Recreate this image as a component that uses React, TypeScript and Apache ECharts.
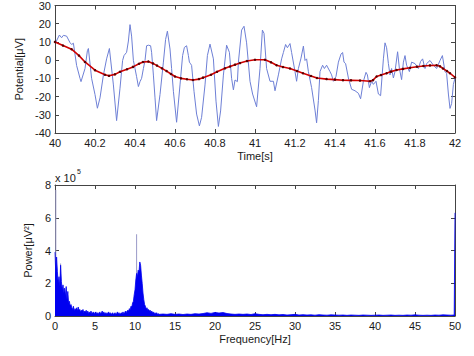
import React, { useEffect, useRef } from 'react';
import * as echarts from 'echarts';

// ---- Top panel: raw EEG potential (µV) vs time (s) ----
const rawTimes = [
  40.005, 40.022, 40.033, 40.042, 40.058, 40.075, 40.083, 40.092, 40.108, 40.125,
  40.13, 40.15, 40.162, 40.167, 40.183, 40.2, 40.212, 40.225, 40.242, 40.258,
  40.272, 40.292, 40.308, 40.325, 40.338, 40.345, 40.358, 40.367, 40.375, 40.383,
  40.392, 40.4, 40.408, 40.417, 40.425, 40.433, 40.442, 40.45, 40.458, 40.467,
  40.478, 40.483, 40.492, 40.5, 40.508, 40.525, 40.542, 40.553, 40.562, 40.575,
  40.583, 40.592, 40.608, 40.625, 40.638, 40.647, 40.658, 40.667, 40.672, 40.678,
  40.683, 40.695, 40.708, 40.722, 40.733, 40.75, 40.762, 40.775, 40.792, 40.805,
  40.817, 40.828, 40.842, 40.858, 40.872, 40.883, 40.892, 40.9, 40.912, 40.917,
  40.933, 40.945, 40.958, 40.975, 40.988, 41.008, 41.025, 41.037, 41.045, 41.058,
  41.075, 41.092, 41.1, 41.117, 41.133, 41.142, 41.153, 41.162, 41.175, 41.183,
  41.2, 41.208, 41.217, 41.23, 41.242, 41.25, 41.258, 41.267, 41.283, 41.3,
  41.308, 41.317, 41.325, 41.338, 41.347, 41.358, 41.375, 41.383, 41.392, 41.405,
  41.417, 41.43, 41.438, 41.445, 41.453, 41.467, 41.483, 41.5, 41.517, 41.528,
  41.542, 41.555, 41.562, 41.572, 41.583, 41.592, 41.605, 41.617, 41.628, 41.642,
  41.65, 41.658, 41.667, 41.675, 41.683, 41.692, 41.7, 41.713, 41.722, 41.733,
  41.742, 41.75, 41.758, 41.772, 41.783, 41.8, 41.817, 41.828, 41.838, 41.85,
  41.858, 41.875, 41.892, 41.908, 41.925, 41.937, 41.95, 41.958, 41.967, 41.975,
  41.983, 41.992, 42.0,
];
const rawPotential = [
  10, 13.8, 12.3, 13.6, 13.2, 9.6, 8.6, 9.3, -2.9, -10,
  -11.8, -4.6, 5.2, 6.4, -10, -18.9, -26.4, -20.7, -8.2, 0.7,
  6.4, -13.6, -33.2, -15.4, -0.2, 2.5, 4.3, 10.5, 19.5, 13.2,
  -0.2, -4.6, -9.1, -14.5, -11.8, -10, -4.6, -0.2, 7.9, 8.2,
  7.9, 4.3, -8.2, -20.7, -33.2, -18.9, -1.1, 11.4, 15.9, 6.1,
  -4.6, -17.1, -34.1, -13.6, 2.5, 7, 7.9, 2.5, -1.1, -2,
  -2.9, -17.1, -29.6, -36.1, -31.4, -13.6, 2.5, 8.8, 0.7, -22.5,
  -36.4, -27.9, -8.2, 8.2, 4.3, -10, -16.3, -10.9, -11.8, -1.1,
  16.5, 18.6, 9.5, -11.6, -18.6, -25.6, -4.6, 16.5, 14.7, -4.6,
  -11.6, -11.6, -16.8, -8.1, 0.7, 4.2, 8.6, 6.8, 9.1, 4.2,
  -6.3, -11.6, -4.6, 1.1, 7.7, -0.2, 0.7, -6.3, -15.1, -27.4,
  -34.4, -22.1, -6.3, -2.8, -4.6, -2.8, -6.3, -8.1, -11.6, -8.9,
  -1.1, 3.3, 4.2, -1.1, -1.9, -9.8, -16, -16.8, -18.2, -21.2,
  -11.6, -6.7, -8.1, -15.1, -11.6, -13.3, -11.6, -18.6, -19.5, 0.7,
  9.5, 6.8, -1.9, -8.1, -4.6, -9.8, -6.3, 4.6, -4.6, -10.7,
  -1.1, 2.5, -2.8, -6.3, -1.1, -1.9, -4.6, -0.7, 0.7, -4.6,
  -1.9, -0.2, -2.8, -4.6, -0.2, 2.5, -6.3, -7.2, -18.6, -26.5,
  -23.9, -13.3, -9.8,
];

// smoothed (low-pass) potential
const smoothTimes = [
  40.0, 40.04, 40.083, 40.12, 40.15, 40.2, 40.25, 40.27, 40.3, 40.325,
  40.36, 40.39, 40.42, 40.44, 40.467, 40.49, 40.51, 40.535, 40.558, 40.58,
  40.6, 40.63, 40.66, 40.69, 40.72, 40.74, 40.78, 40.81, 40.85, 40.875,
  40.9, 40.925, 40.96, 41.0, 41.05, 41.08, 41.108, 41.14, 41.175, 41.21,
  41.24, 41.28, 41.31, 41.358, 41.4, 41.44, 41.48, 41.525, 41.575, 41.59,
  41.608, 41.63, 41.658, 41.68, 41.708, 41.74, 41.775, 41.81, 41.842, 41.875,
  41.908, 41.925, 41.94, 41.96, 41.975, 42.0,
];
const smoothPotential = [
  10, 8, 6, 2.5, -1, -5.5, -8, -8.6, -7.8, -6.4,
  -5, -3.7, -2, -1, -0.8, -1.8, -3, -4.5, -6, -7.6,
  -9, -10, -10.5, -10.9, -10.4, -9.6, -8, -6.4, -4.5, -3.5,
  -2.5, -1.6, -0.5, 0.2, 0.2, -1.2, -2.8, -3.8, -4.6, -6,
  -7.2, -8.7, -9.8, -10.4, -10.7, -11, -11.1, -11.2, -11.6, -11,
  -9, -8.2, -7.2, -6.3, -5.4, -4.8, -4.2, -3.6, -3.2, -2.9,
  -2.8, -3.4, -4.6, -6, -7.2, -9.5,
];

// ---- Bottom panel: power spectrum (x 10^5 µV²) ----
const lowBandStart = 0;
const lowBandStep = 0.1;
const lowBandPower = [
  3.9, 2.5, 3.6, 2.7, 2.0, 2.4, 1.8, 3.1, 2.1, 1.6,
  1.9, 1.4, 1.7, 1.2, 1.8, 1.0, 1.5, 0.8, 0.9, 0.6,
  0.7, 0.5, 0.4, 0.6, 0.3, 0.45, 0.35, 0.5, 0.3, 0.55,
  0.35, 0.4, 0.25, 0.35, 0.3, 0.4, 0.2, 0.3, 0.25, 0.35,
  0.2, 0.3, 0.15, 0.25, 0.2, 0.3, 0.15, 0.2, 0.25, 0.15,
  0.2, 0.25, 0.15, 0.2, 0.1, 0.2, 0.25, 0.15, 0.2, 0.3,
  0.2, 0.25, 0.15, 0.2, 0.1, 0.2, 0.15, 0.25, 0.15, 0.2,
  0.1, 0.15, 0.2, 0.1, 0.15, 0.2, 0.1, 0.15, 0.25, 0.15,
  0.2, 0.1, 0.15, 0.2, 0.15, 0.25, 0.15, 0.2, 0.3, 0.2,
  0.3, 0.35, 0.3, 0.45, 0.4, 0.6, 0.55, 0.8, 0.9, 1.3,
  1.6, 2.2, 2.6, 2.4, 2.8, 2.7, 3.3, 3.1, 2.5, 2.0,
  1.4, 1.0, 0.7, 0.6, 0.45, 0.5, 0.35, 0.4, 0.3, 0.35,
  0.25, 0.3, 0.2, 0.25, 0.15, 0.2, 0.15, 0.2, 0.1, 0.15,
  0.1,
];
const highBandStart = 13.5;
const highBandStep = 0.5;
const highBandPower = [
  0.12, 0.1, 0.14, 0.1, 0.12, 0.09, 0.12, 0.1, 0.14, 0.12,
  0.15, 0.2, 0.16, 0.22, 0.18, 0.21, 0.15, 0.12, 0.1, 0.12,
  0.1, 0.12, 0.09, 0.14, 0.1, 0.08, 0.1, 0.08, 0.1, 0.07,
  0.09, 0.06, 0.08, 0.1, 0.06, 0.08, 0.06, 0.07, 0.05, 0.08,
  0.06, 0.05, 0.07, 0.06, 0.05, 0.06, 0.04, 0.06, 0.05, 0.04,
  0.06, 0.05, 0.04, 0.05, 0.06, 0.04, 0.05, 0.06, 0.04, 0.05,
  0.04, 0.06, 0.05, 0.07, 0.05, 0.04, 0.05, 0.04, 0.06, 0.05,
  0.07, 0.06, 0.05,
];
const edgeFreqs = [49.9, 50];
const edgePower = [0.06, 6.3];
const spikeFreqs = [0.1, 0.7, 10.2];
const spikePower = [7.7, 3.2, 5.0];

const timeTicks = { min: 40, max: 42, interval: 0.2 };
const potentialTicks = { min: -40, max: 30, interval: 10 };
const freqTicks = { min: 0, max: 50, interval: 5 };
const powerTicks = { min: 0, max: 8, interval: 2 };

const FONT = 'Liberation Sans';
const AXIS_COLOR = '#444';
const TEXT_COLOR = '#1a1a1a';

function boxAxis(gridIndex: number, ticks: any, extra: any = {}) {
  return {
    type: 'value',
    gridIndex,
    min: ticks.min,
    max: ticks.max,
    interval: ticks.interval,
    axisLine: { show: true, onZero: false, lineStyle: { color: AXIS_COLOR, width: 1 } },
    axisTick: { show: true, inside: true, length: 4, lineStyle: { color: AXIS_COLOR } },
    splitLine: { show: false },
    axisLabel: { show: false },
    ...extra,
  };
}

export default function App() {
  const ref = useRef<HTMLDivElement>(null);
  useEffect(() => {
    if (!ref.current) return;
    const chart = echarts.init(ref.current, undefined, { renderer: 'svg' });

    const rawData = rawTimes.map((t, i) => [t, rawPotential[i]]);
    const smoothData = smoothTimes.map((t, i) => [t, smoothPotential[i]]);
    const specData: number[][] = [];
    lowBandPower.forEach((v, i) => specData.push([+(lowBandStart + i * lowBandStep).toFixed(2), v]));
    highBandPower.forEach((v, i) => specData.push([highBandStart + i * highBandStep, v]));
    edgeFreqs.forEach((f, i) => specData.push([f, edgePower[i]]));
    const spikeData = spikeFreqs.map((f, i) => [f, spikePower[i]]);

    const labelStyle = { show: true, color: TEXT_COLOR, fontFamily: FONT, fontSize: 11 };
    const nameStyle = { color: TEXT_COLOR, fontFamily: FONT, fontSize: 11 };

    chart.setOption({
      animation: false,
      backgroundColor: '#ffffff',
      grid: [
        { left: 55, top: 2, width: 400, height: 131 },
        { left: 55, top: 185, width: 400, height: 131 },
      ],
      xAxis: [
        boxAxis(0, timeTicks, {
          position: 'bottom',
          axisLabel: { ...labelStyle, margin: 4 },
          name: 'Time[s]',
          nameLocation: 'middle',
          nameGap: 17,
          nameTextStyle: nameStyle,
        }),
        boxAxis(0, timeTicks, { position: 'top' }),
        boxAxis(1, freqTicks, {
          position: 'bottom',
          axisLabel: { ...labelStyle, margin: 4 },
          name: 'Frequency[Hz]',
          nameLocation: 'middle',
          nameGap: 17,
          nameTextStyle: nameStyle,
        }),
        boxAxis(1, freqTicks, { position: 'top' }),
      ],
      yAxis: [
        boxAxis(0, potentialTicks, {
          position: 'left',
          axisLabel: { ...labelStyle, margin: 4 },
          name: 'Potential[μV]',
          nameLocation: 'middle',
          nameGap: 16,
          nameTextStyle: nameStyle,
        }),
        boxAxis(0, potentialTicks, { position: 'right' }),
        boxAxis(1, powerTicks, {
          position: 'left',
          axisLabel: { ...labelStyle, margin: 4 },
          name: 'Power[μV²]',
          nameLocation: 'middle',
          nameGap: 8,
          nameTextStyle: nameStyle,
        }),
        boxAxis(1, powerTicks, { position: 'right' }),
      ],
      graphic: [
        { type: 'text', left: 55, top: 172, style: { text: 'x 10', fill: TEXT_COLOR, font: `11px "${FONT}"` } },
        { type: 'text', left: 77, top: 168, style: { text: '5', fill: TEXT_COLOR, font: `7px "${FONT}"` } },
      ],
      series: [
        {
          type: 'line',
          xAxisIndex: 0,
          yAxisIndex: 0,
          data: rawData,
          showSymbol: false,
          lineStyle: { color: '#6e80d6', width: 1 },
          z: 2,
        },
        {
          type: 'line',
          xAxisIndex: 0,
          yAxisIndex: 0,
          data: smoothData,
          symbol: 'circle',
          symbolSize: 2.5,
          showSymbol: true,
          itemStyle: { color: '#5a0000' },
          lineStyle: { color: '#d00000', width: 1.6 },
          z: 3,
        },
        {
          type: 'bar',
          xAxisIndex: 2,
          yAxisIndex: 2,
          data: spikeData,
          barWidth: 1,
          itemStyle: { color: '#9a9ac8' },
          z: 1,
        },
        {
          type: 'line',
          xAxisIndex: 2,
          yAxisIndex: 2,
          data: specData,
          showSymbol: false,
          lineStyle: { color: '#0000f0', width: 0.8 },
          areaStyle: { color: '#0000f0', opacity: 1 },
          z: 2,
        },
      ],
    });
    return () => chart.dispose();
  }, []);
  return <div ref={ref} style={{ position: 'fixed', left: 0, top: 0, width: 474, height: 356 }} />;
}
